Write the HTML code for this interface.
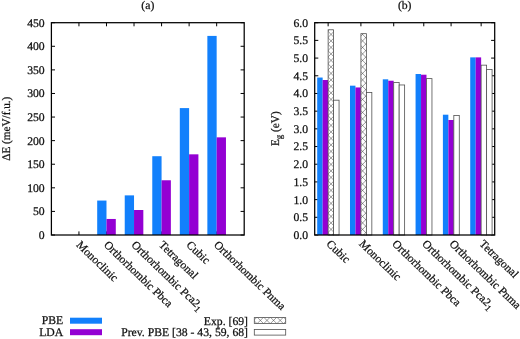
<!DOCTYPE html>
<html><head><meta charset="utf-8"><title>Figure</title>
<style>
html,body{margin:0;padding:0;background:#fff;}
body{width:520px;height:339px;overflow:hidden;}
svg{display:block;}
text{font-family:"Liberation Serif", "DejaVu Serif", serif;fill:#111;stroke:#111;stroke-width:0.25px;text-rendering:geometricPrecision;}
</style></head><body>
<svg width="520" height="339" viewBox="0 0 520 339">
<rect width="520" height="339" fill="#fff"/>
<path d="M78.94 235.0V231.4M78.94 22.7V26.3" stroke="#000" stroke-width="1" fill="none"/>
<path d="M106.49 235.0V231.4M106.49 22.7V26.3" stroke="#000" stroke-width="1" fill="none"/>
<path d="M134.03 235.0V231.4M134.03 22.7V26.3" stroke="#000" stroke-width="1" fill="none"/>
<path d="M161.57 235.0V231.4M161.57 22.7V26.3" stroke="#000" stroke-width="1" fill="none"/>
<path d="M189.11 235.0V231.4M189.11 22.7V26.3" stroke="#000" stroke-width="1" fill="none"/>
<path d="M216.66 235.0V231.4M216.66 22.7V26.3" stroke="#000" stroke-width="1" fill="none"/>
<path d="M51.4 235.00H55.0M244.2 235.00H240.6" stroke="#000" stroke-width="1" fill="none"/>
<path d="M51.4 211.41H55.0M244.2 211.41H240.6" stroke="#000" stroke-width="1" fill="none"/>
<path d="M51.4 187.82H55.0M244.2 187.82H240.6" stroke="#000" stroke-width="1" fill="none"/>
<path d="M51.4 164.23H55.0M244.2 164.23H240.6" stroke="#000" stroke-width="1" fill="none"/>
<path d="M51.4 140.64H55.0M244.2 140.64H240.6" stroke="#000" stroke-width="1" fill="none"/>
<path d="M51.4 117.06H55.0M244.2 117.06H240.6" stroke="#000" stroke-width="1" fill="none"/>
<path d="M51.4 93.47H55.0M244.2 93.47H240.6" stroke="#000" stroke-width="1" fill="none"/>
<path d="M51.4 69.88H55.0M244.2 69.88H240.6" stroke="#000" stroke-width="1" fill="none"/>
<path d="M51.4 46.29H55.0M244.2 46.29H240.6" stroke="#000" stroke-width="1" fill="none"/>
<path d="M51.4 22.70H55.0M244.2 22.70H240.6" stroke="#000" stroke-width="1" fill="none"/>
<rect x="97.19" y="200.56" width="9.30" height="34.44" fill="#1280fc"/>
<rect x="106.49" y="218.96" width="9.30" height="16.04" fill="#9400d3"/>
<rect x="124.73" y="195.37" width="9.30" height="39.63" fill="#1280fc"/>
<rect x="134.03" y="210.00" width="9.30" height="25.00" fill="#9400d3"/>
<rect x="152.27" y="156.21" width="9.30" height="78.79" fill="#1280fc"/>
<rect x="161.57" y="180.27" width="9.30" height="54.73" fill="#9400d3"/>
<rect x="179.81" y="108.09" width="9.30" height="126.91" fill="#1280fc"/>
<rect x="189.11" y="154.33" width="9.30" height="80.67" fill="#9400d3"/>
<rect x="207.36" y="35.91" width="9.30" height="199.09" fill="#1280fc"/>
<rect x="216.66" y="137.34" width="9.30" height="97.66" fill="#9400d3"/>
<text transform="translate(44.70 238.95) scale(1 1.0)" text-anchor="end" font-size="11.7">0</text>
<text transform="translate(44.70 215.36) scale(1 1.0)" text-anchor="end" font-size="11.7">50</text>
<text transform="translate(44.70 191.77) scale(1 1.0)" text-anchor="end" font-size="11.7">100</text>
<text transform="translate(44.70 168.18) scale(1 1.0)" text-anchor="end" font-size="11.7">150</text>
<text transform="translate(44.70 144.59) scale(1 1.0)" text-anchor="end" font-size="11.7">200</text>
<text transform="translate(44.70 121.01) scale(1 1.0)" text-anchor="end" font-size="11.7">250</text>
<text transform="translate(44.70 97.42) scale(1 1.0)" text-anchor="end" font-size="11.7">300</text>
<text transform="translate(44.70 73.83) scale(1 1.0)" text-anchor="end" font-size="11.7">350</text>
<text transform="translate(44.70 50.24) scale(1 1.0)" text-anchor="end" font-size="11.7">400</text>
<text transform="translate(44.70 26.65) scale(1 1.0)" text-anchor="end" font-size="11.7">450</text>
<rect x="51.4" y="22.7" width="192.80" height="212.30" fill="none" stroke="#000" stroke-width="1.25"/>
<text transform="translate(75.64 245.60) scale(1 0.958) rotate(45)" x="0" y="0" font-size="11.7">Monoclinic</text>
<text transform="translate(103.19 245.60) scale(1 0.958) rotate(45)" x="0" y="0" font-size="11.7">Orthorhombic Pbca</text>
<text transform="translate(130.73 245.60) scale(1 0.958) rotate(45)" x="0" y="0" font-size="11.7">Orthorhombic Pca2<tspan font-size="9.4" dy="3">1</tspan></text>
<text transform="translate(158.27 245.60) scale(1 0.958) rotate(45)" x="0" y="0" font-size="11.7">Tetragonal</text>
<text transform="translate(185.81 245.60) scale(1 0.958) rotate(45)" x="0" y="0" font-size="11.7">Cubic</text>
<text transform="translate(213.36 245.60) scale(1 0.958) rotate(45)" x="0" y="0" font-size="11.7">Orthorhombic Pnma</text>
<text transform="translate(147.8 8.6) scale(1 1.0)" text-anchor="middle" font-size="11.7">(a)</text>
<text transform="translate(10.0 128.7) scale(1 0.958) rotate(-90)" text-anchor="middle" font-size="11.7">ΔE (meV/f.u.)</text>
<path d="M328.13 235.0V231.4M328.13 22.7V26.3" stroke="#000" stroke-width="1" fill="none"/>
<path d="M360.92 235.0V231.4M360.92 22.7V26.3" stroke="#000" stroke-width="1" fill="none"/>
<path d="M393.71 235.0V231.4M393.71 22.7V26.3" stroke="#000" stroke-width="1" fill="none"/>
<path d="M423.77 235.0V231.4M423.77 22.7V26.3" stroke="#000" stroke-width="1" fill="none"/>
<path d="M451.09 235.0V231.4M451.09 22.7V26.3" stroke="#000" stroke-width="1" fill="none"/>
<path d="M481.15 235.0V231.4M481.15 22.7V26.3" stroke="#000" stroke-width="1" fill="none"/>
<path d="M314.7 235.00H318.3M494.7 235.00H491.09999999999997" stroke="#000" stroke-width="1" fill="none"/>
<path d="M314.7 217.31H318.3M494.7 217.31H491.09999999999997" stroke="#000" stroke-width="1" fill="none"/>
<path d="M314.7 199.62H318.3M494.7 199.62H491.09999999999997" stroke="#000" stroke-width="1" fill="none"/>
<path d="M314.7 181.92H318.3M494.7 181.92H491.09999999999997" stroke="#000" stroke-width="1" fill="none"/>
<path d="M314.7 164.23H318.3M494.7 164.23H491.09999999999997" stroke="#000" stroke-width="1" fill="none"/>
<path d="M314.7 146.54H318.3M494.7 146.54H491.09999999999997" stroke="#000" stroke-width="1" fill="none"/>
<path d="M314.7 128.85H318.3M494.7 128.85H491.09999999999997" stroke="#000" stroke-width="1" fill="none"/>
<path d="M314.7 111.16H318.3M494.7 111.16H491.09999999999997" stroke="#000" stroke-width="1" fill="none"/>
<path d="M314.7 93.47H318.3M494.7 93.47H491.09999999999997" stroke="#000" stroke-width="1" fill="none"/>
<path d="M314.7 75.78H318.3M494.7 75.78H491.09999999999997" stroke="#000" stroke-width="1" fill="none"/>
<path d="M314.7 58.08H318.3M494.7 58.08H491.09999999999997" stroke="#000" stroke-width="1" fill="none"/>
<path d="M314.7 40.39H318.3M494.7 40.39H491.09999999999997" stroke="#000" stroke-width="1" fill="none"/>
<path d="M314.7 22.70H318.3M494.7 22.70H491.09999999999997" stroke="#000" stroke-width="1" fill="none"/>
<rect x="317.20" y="77.54" width="5.46" height="157.46" fill="#1280fc"/>
<rect x="322.66" y="80.02" width="5.46" height="154.98" fill="#9400d3"/>
<rect x="328.13" y="29.78" width="5.46" height="205.22" fill="#fff"/>
<clipPath id="c1"><rect x="328.13" y="29.78" width="5.46" height="205.22"/></clipPath>
<path clip-path="url(#c1)" d="M-214.23 -274.69L384.93 343.49M-214.23 343.49L384.93 -274.69M-207.93 -274.69L391.23 343.49M-207.93 343.49L391.23 -274.69M-201.63 -274.69L397.53 343.49M-201.63 343.49L397.53 -274.69M-195.33 -274.69L403.83 343.49M-195.33 343.49L403.83 -274.69M-189.03 -274.69L410.13 343.49M-189.03 343.49L410.13 -274.69M-182.73 -274.69L416.43 343.49M-182.73 343.49L416.43 -274.69M-176.43 -274.69L422.73 343.49M-176.43 343.49L422.73 -274.69M-170.13 -274.69L429.03 343.49M-170.13 343.49L429.03 -274.69M-163.83 -274.69L435.33 343.49M-163.83 343.49L435.33 -274.69M-157.53 -274.69L441.63 343.49M-157.53 343.49L441.63 -274.69M-151.23 -274.69L447.93 343.49M-151.23 343.49L447.93 -274.69M-144.93 -274.69L454.23 343.49M-144.93 343.49L454.23 -274.69M-138.63 -274.69L460.53 343.49M-138.63 343.49L460.53 -274.69M-132.33 -274.69L466.83 343.49M-132.33 343.49L466.83 -274.69M-126.03 -274.69L473.13 343.49M-126.03 343.49L473.13 -274.69M-119.73 -274.69L479.43 343.49M-119.73 343.49L479.43 -274.69M-113.43 -274.69L485.73 343.49M-113.43 343.49L485.73 -274.69M-107.13 -274.69L492.03 343.49M-107.13 343.49L492.03 -274.69M-100.83 -274.69L498.33 343.49M-100.83 343.49L498.33 -274.69M-94.53 -274.69L504.63 343.49M-94.53 343.49L504.63 -274.69M-88.23 -274.69L510.93 343.49M-88.23 343.49L510.93 -274.69M-81.93 -274.69L517.23 343.49M-81.93 343.49L517.23 -274.69M-75.63 -274.69L523.53 343.49M-75.63 343.49L523.53 -274.69M-69.33 -274.69L529.83 343.49M-69.33 343.49L529.83 -274.69M-63.03 -274.69L536.13 343.49M-63.03 343.49L536.13 -274.69M-56.73 -274.69L542.43 343.49M-56.73 343.49L542.43 -274.69M-50.43 -274.69L548.73 343.49M-50.43 343.49L548.73 -274.69M-44.13 -274.69L555.03 343.49M-44.13 343.49L555.03 -274.69M-37.83 -274.69L561.33 343.49M-37.83 343.49L561.33 -274.69M-31.53 -274.69L567.63 343.49M-31.53 343.49L567.63 -274.69M-25.23 -274.69L573.93 343.49M-25.23 343.49L573.93 -274.69M-18.93 -274.69L580.23 343.49M-18.93 343.49L580.23 -274.69M-12.63 -274.69L586.53 343.49M-12.63 343.49L586.53 -274.69M-6.33 -274.69L592.83 343.49M-6.33 343.49L592.83 -274.69M-0.03 -274.69L599.13 343.49M-0.03 343.49L599.13 -274.69M6.27 -274.69L605.43 343.49M6.27 343.49L605.43 -274.69M12.57 -274.69L611.73 343.49M12.57 343.49L611.73 -274.69M18.87 -274.69L618.03 343.49M18.87 343.49L618.03 -274.69M25.17 -274.69L624.33 343.49M25.17 343.49L624.33 -274.69M31.47 -274.69L630.63 343.49M31.47 343.49L630.63 -274.69M37.77 -274.69L636.93 343.49M37.77 343.49L636.93 -274.69M44.07 -274.69L643.23 343.49M44.07 343.49L643.23 -274.69M50.37 -274.69L649.53 343.49M50.37 343.49L649.53 -274.69M56.67 -274.69L655.83 343.49M56.67 343.49L655.83 -274.69M62.97 -274.69L662.13 343.49M62.97 343.49L662.13 -274.69M69.27 -274.69L668.43 343.49M69.27 343.49L668.43 -274.69M75.57 -274.69L674.73 343.49M75.57 343.49L674.73 -274.69M81.87 -274.69L681.03 343.49M81.87 343.49L681.03 -274.69M88.17 -274.69L687.33 343.49M88.17 343.49L687.33 -274.69M94.47 -274.69L693.63 343.49M94.47 343.49L693.63 -274.69M100.77 -274.69L699.93 343.49M100.77 343.49L699.93 -274.69M107.07 -274.69L706.23 343.49M107.07 343.49L706.23 -274.69M113.37 -274.69L712.53 343.49M113.37 343.49L712.53 -274.69M119.67 -274.69L718.83 343.49M119.67 343.49L718.83 -274.69M125.97 -274.69L725.13 343.49M125.97 343.49L725.13 -274.69M132.27 -274.69L731.43 343.49M132.27 343.49L731.43 -274.69M138.57 -274.69L737.73 343.49M138.57 343.49L737.73 -274.69M144.87 -274.69L744.03 343.49M144.87 343.49L744.03 -274.69M151.17 -274.69L750.33 343.49M151.17 343.49L750.33 -274.69M157.47 -274.69L756.63 343.49M157.47 343.49L756.63 -274.69M163.77 -274.69L762.93 343.49M163.77 343.49L762.93 -274.69M170.07 -274.69L769.23 343.49M170.07 343.49L769.23 -274.69M176.37 -274.69L775.53 343.49M176.37 343.49L775.53 -274.69M182.67 -274.69L781.83 343.49M182.67 343.49L781.83 -274.69M188.97 -274.69L788.13 343.49M188.97 343.49L788.13 -274.69M195.27 -274.69L794.43 343.49M195.27 343.49L794.43 -274.69M201.57 -274.69L800.73 343.49M201.57 343.49L800.73 -274.69M207.87 -274.69L807.03 343.49M207.87 343.49L807.03 -274.69M214.17 -274.69L813.33 343.49M214.17 343.49L813.33 -274.69M220.47 -274.69L819.63 343.49M220.47 343.49L819.63 -274.69M226.77 -274.69L825.93 343.49M226.77 343.49L825.93 -274.69M233.07 -274.69L832.23 343.49M233.07 343.49L832.23 -274.69M239.37 -274.69L838.53 343.49M239.37 343.49L838.53 -274.69M245.67 -274.69L844.83 343.49M245.67 343.49L844.83 -274.69M251.97 -274.69L851.13 343.49M251.97 343.49L851.13 -274.69M258.27 -274.69L857.43 343.49M258.27 343.49L857.43 -274.69M264.57 -274.69L863.73 343.49M264.57 343.49L863.73 -274.69M270.87 -274.69L870.03 343.49M270.87 343.49L870.03 -274.69M277.17 -274.69L876.33 343.49M277.17 343.49L876.33 -274.69" stroke="#3a3a3a" stroke-width="0.5" fill="none"/>
<rect x="328.13" y="29.78" width="5.46" height="205.22" fill="none" stroke="#505050" stroke-width="0.8"/>
<rect x="333.59" y="100.19" width="5.46" height="134.81" fill="#fff" stroke="#505050" stroke-width="0.8"/>
<rect x="349.99" y="85.68" width="5.46" height="149.32" fill="#1280fc"/>
<rect x="355.45" y="87.45" width="5.46" height="147.55" fill="#9400d3"/>
<rect x="360.92" y="33.67" width="5.46" height="201.33" fill="#fff"/>
<clipPath id="c2"><rect x="360.92" y="33.67" width="5.46" height="201.33"/></clipPath>
<path clip-path="url(#c2)" d="M-202.51 -269.10L385.81 337.90M-202.51 337.90L385.81 -269.10M-196.21 -269.10L392.11 337.90M-196.21 337.90L392.11 -269.10M-189.91 -269.10L398.41 337.90M-189.91 337.90L398.41 -269.10M-183.61 -269.10L404.71 337.90M-183.61 337.90L404.71 -269.10M-177.31 -269.10L411.01 337.90M-177.31 337.90L411.01 -269.10M-171.01 -269.10L417.31 337.90M-171.01 337.90L417.31 -269.10M-164.71 -269.10L423.61 337.90M-164.71 337.90L423.61 -269.10M-158.41 -269.10L429.91 337.90M-158.41 337.90L429.91 -269.10M-152.11 -269.10L436.21 337.90M-152.11 337.90L436.21 -269.10M-145.81 -269.10L442.51 337.90M-145.81 337.90L442.51 -269.10M-139.51 -269.10L448.81 337.90M-139.51 337.90L448.81 -269.10M-133.21 -269.10L455.11 337.90M-133.21 337.90L455.11 -269.10M-126.91 -269.10L461.41 337.90M-126.91 337.90L461.41 -269.10M-120.61 -269.10L467.71 337.90M-120.61 337.90L467.71 -269.10M-114.31 -269.10L474.01 337.90M-114.31 337.90L474.01 -269.10M-108.01 -269.10L480.31 337.90M-108.01 337.90L480.31 -269.10M-101.71 -269.10L486.61 337.90M-101.71 337.90L486.61 -269.10M-95.41 -269.10L492.91 337.90M-95.41 337.90L492.91 -269.10M-89.11 -269.10L499.21 337.90M-89.11 337.90L499.21 -269.10M-82.81 -269.10L505.51 337.90M-82.81 337.90L505.51 -269.10M-76.51 -269.10L511.81 337.90M-76.51 337.90L511.81 -269.10M-70.21 -269.10L518.11 337.90M-70.21 337.90L518.11 -269.10M-63.91 -269.10L524.41 337.90M-63.91 337.90L524.41 -269.10M-57.61 -269.10L530.71 337.90M-57.61 337.90L530.71 -269.10M-51.31 -269.10L537.01 337.90M-51.31 337.90L537.01 -269.10M-45.01 -269.10L543.31 337.90M-45.01 337.90L543.31 -269.10M-38.71 -269.10L549.61 337.90M-38.71 337.90L549.61 -269.10M-32.41 -269.10L555.91 337.90M-32.41 337.90L555.91 -269.10M-26.11 -269.10L562.21 337.90M-26.11 337.90L562.21 -269.10M-19.81 -269.10L568.51 337.90M-19.81 337.90L568.51 -269.10M-13.51 -269.10L574.81 337.90M-13.51 337.90L574.81 -269.10M-7.21 -269.10L581.11 337.90M-7.21 337.90L581.11 -269.10M-0.91 -269.10L587.41 337.90M-0.91 337.90L587.41 -269.10M5.39 -269.10L593.71 337.90M5.39 337.90L593.71 -269.10M11.69 -269.10L600.01 337.90M11.69 337.90L600.01 -269.10M17.99 -269.10L606.31 337.90M17.99 337.90L606.31 -269.10M24.29 -269.10L612.61 337.90M24.29 337.90L612.61 -269.10M30.59 -269.10L618.91 337.90M30.59 337.90L618.91 -269.10M36.89 -269.10L625.21 337.90M36.89 337.90L625.21 -269.10M43.19 -269.10L631.51 337.90M43.19 337.90L631.51 -269.10M49.49 -269.10L637.81 337.90M49.49 337.90L637.81 -269.10M55.79 -269.10L644.11 337.90M55.79 337.90L644.11 -269.10M62.09 -269.10L650.41 337.90M62.09 337.90L650.41 -269.10M68.39 -269.10L656.71 337.90M68.39 337.90L656.71 -269.10M74.69 -269.10L663.01 337.90M74.69 337.90L663.01 -269.10M80.99 -269.10L669.31 337.90M80.99 337.90L669.31 -269.10M87.29 -269.10L675.61 337.90M87.29 337.90L675.61 -269.10M93.59 -269.10L681.91 337.90M93.59 337.90L681.91 -269.10M99.89 -269.10L688.21 337.90M99.89 337.90L688.21 -269.10M106.19 -269.10L694.51 337.90M106.19 337.90L694.51 -269.10M112.49 -269.10L700.81 337.90M112.49 337.90L700.81 -269.10M118.79 -269.10L707.11 337.90M118.79 337.90L707.11 -269.10M125.09 -269.10L713.41 337.90M125.09 337.90L713.41 -269.10M131.39 -269.10L719.71 337.90M131.39 337.90L719.71 -269.10M137.69 -269.10L726.01 337.90M137.69 337.90L726.01 -269.10M143.99 -269.10L732.31 337.90M143.99 337.90L732.31 -269.10M150.29 -269.10L738.61 337.90M150.29 337.90L738.61 -269.10M156.59 -269.10L744.91 337.90M156.59 337.90L744.91 -269.10M162.89 -269.10L751.21 337.90M162.89 337.90L751.21 -269.10M169.19 -269.10L757.51 337.90M169.19 337.90L757.51 -269.10M175.49 -269.10L763.81 337.90M175.49 337.90L763.81 -269.10M181.79 -269.10L770.11 337.90M181.79 337.90L770.11 -269.10M188.09 -269.10L776.41 337.90M188.09 337.90L776.41 -269.10M194.39 -269.10L782.71 337.90M194.39 337.90L782.71 -269.10M200.69 -269.10L789.01 337.90M200.69 337.90L789.01 -269.10M206.99 -269.10L795.31 337.90M206.99 337.90L795.31 -269.10M213.29 -269.10L801.61 337.90M213.29 337.90L801.61 -269.10M219.59 -269.10L807.91 337.90M219.59 337.90L807.91 -269.10M225.89 -269.10L814.21 337.90M225.89 337.90L814.21 -269.10M232.19 -269.10L820.51 337.90M232.19 337.90L820.51 -269.10M238.49 -269.10L826.81 337.90M238.49 337.90L826.81 -269.10M244.79 -269.10L833.11 337.90M244.79 337.90L833.11 -269.10M251.09 -269.10L839.41 337.90M251.09 337.90L839.41 -269.10M257.39 -269.10L845.71 337.90M257.39 337.90L845.71 -269.10M263.69 -269.10L852.01 337.90M263.69 337.90L852.01 -269.10M269.99 -269.10L858.31 337.90M269.99 337.90L858.31 -269.10M276.29 -269.10L864.61 337.90M276.29 337.90L864.61 -269.10" stroke="#3a3a3a" stroke-width="0.5" fill="none"/>
<rect x="360.92" y="33.67" width="5.46" height="201.33" fill="none" stroke="#505050" stroke-width="0.8"/>
<rect x="366.38" y="92.41" width="5.46" height="142.59" fill="#fff" stroke="#505050" stroke-width="0.8"/>
<rect x="382.78" y="79.31" width="5.46" height="155.69" fill="#1280fc"/>
<rect x="388.24" y="80.73" width="5.46" height="154.27" fill="#9400d3"/>
<rect x="393.71" y="82.50" width="5.46" height="152.50" fill="#fff" stroke="#505050" stroke-width="0.8"/>
<rect x="399.17" y="84.97" width="5.46" height="150.03" fill="#fff" stroke="#505050" stroke-width="0.8"/>
<rect x="415.57" y="74.01" width="5.46" height="160.99" fill="#1280fc"/>
<rect x="421.03" y="74.71" width="5.46" height="160.29" fill="#9400d3"/>
<rect x="426.50" y="78.61" width="5.46" height="156.39" fill="#fff" stroke="#505050" stroke-width="0.8"/>
<rect x="442.89" y="114.70" width="5.46" height="120.30" fill="#1280fc"/>
<rect x="448.36" y="120.00" width="5.46" height="115.00" fill="#9400d3"/>
<rect x="453.82" y="115.40" width="5.46" height="119.60" fill="#fff" stroke="#505050" stroke-width="0.8"/>
<rect x="470.22" y="57.38" width="5.46" height="177.62" fill="#1280fc"/>
<rect x="475.68" y="57.38" width="5.46" height="177.62" fill="#9400d3"/>
<rect x="481.15" y="65.16" width="5.46" height="169.84" fill="#fff" stroke="#505050" stroke-width="0.8"/>
<rect x="486.61" y="69.41" width="5.46" height="165.59" fill="#fff" stroke="#505050" stroke-width="0.8"/>
<text transform="translate(308.00 238.95) scale(1 1.0)" text-anchor="end" font-size="11.7">0.0</text>
<text transform="translate(308.00 221.26) scale(1 1.0)" text-anchor="end" font-size="11.7">0.5</text>
<text transform="translate(308.00 203.57) scale(1 1.0)" text-anchor="end" font-size="11.7">1.0</text>
<text transform="translate(308.00 185.87) scale(1 1.0)" text-anchor="end" font-size="11.7">1.5</text>
<text transform="translate(308.00 168.18) scale(1 1.0)" text-anchor="end" font-size="11.7">2.0</text>
<text transform="translate(308.00 150.49) scale(1 1.0)" text-anchor="end" font-size="11.7">2.5</text>
<text transform="translate(308.00 132.80) scale(1 1.0)" text-anchor="end" font-size="11.7">3.0</text>
<text transform="translate(308.00 115.11) scale(1 1.0)" text-anchor="end" font-size="11.7">3.5</text>
<text transform="translate(308.00 97.42) scale(1 1.0)" text-anchor="end" font-size="11.7">4.0</text>
<text transform="translate(308.00 79.73) scale(1 1.0)" text-anchor="end" font-size="11.7">4.5</text>
<text transform="translate(308.00 62.03) scale(1 1.0)" text-anchor="end" font-size="11.7">5.0</text>
<text transform="translate(308.00 44.34) scale(1 1.0)" text-anchor="end" font-size="11.7">5.5</text>
<text transform="translate(308.00 26.65) scale(1 1.0)" text-anchor="end" font-size="11.7">6.0</text>
<rect x="314.7" y="22.7" width="180.00" height="212.30" fill="none" stroke="#000" stroke-width="1.25"/>
<text transform="translate(325.83 244.60) scale(1 0.958) rotate(45)" x="0" y="0" font-size="11.7">Cubic</text>
<text transform="translate(358.62 244.60) scale(1 0.958) rotate(45)" x="0" y="0" font-size="11.7">Monoclinic</text>
<text transform="translate(391.41 244.60) scale(1 0.958) rotate(45)" x="0" y="0" font-size="11.7">Orthorhombic Pbca</text>
<text transform="translate(421.47 244.60) scale(1 0.958) rotate(45)" x="0" y="0" font-size="11.7">Orthorhombic Pca2<tspan font-size="9.4" dy="3">1</tspan></text>
<text transform="translate(448.79 244.60) scale(1 0.958) rotate(45)" x="0" y="0" font-size="11.7">Orthorhombic Pnma</text>
<text transform="translate(478.85 244.60) scale(1 0.958) rotate(45)" x="0" y="0" font-size="11.7">Tetragonal</text>
<text transform="translate(404.7 8.6) scale(1 1.0)" text-anchor="middle" font-size="11.7">(b)</text>
<text transform="translate(278.8 128.7) scale(1 0.958) rotate(-90)" text-anchor="middle" font-size="11.7">E<tspan font-size="9.4" dy="3">g</tspan><tspan dy="-3"> (eV)</tspan></text>
<text transform="translate(63.2 324.2) scale(1 1.0)" text-anchor="end" font-size="11.7">PBE</text>
<rect x="70" y="317.7" width="32" height="6" fill="#1280fc"/>
<text transform="translate(63.2 335.6) scale(1 1.0)" text-anchor="end" font-size="11.7">LDA</text>
<rect x="70" y="329.2" width="32" height="6" fill="#9400d3"/>
<text transform="translate(248.0 324.6) scale(1 1.0)" text-anchor="end" font-size="11.7">Exp. [69]</text>
<text transform="translate(248.0 335.6) scale(1 1.0)" text-anchor="end" font-size="11.7">Prev. PBE [38 - 43, 59, 68]</text>
<rect x="254.3" y="317.6" width="31.4" height="5.8" fill="#fff"/>
<clipPath id="c3"><rect x="254.30" y="317.60" width="31.40" height="5.80"/></clipPath>
<path clip-path="url(#c3)" d="M128.77 262.30L246.75 378.50M128.77 378.50L246.75 262.30M135.37 262.30L253.35 378.50M135.37 378.50L253.35 262.30M141.97 262.30L259.95 378.50M141.97 378.50L259.95 262.30M148.57 262.30L266.55 378.50M148.57 378.50L266.55 262.30M155.17 262.30L273.15 378.50M155.17 378.50L273.15 262.30M161.77 262.30L279.75 378.50M161.77 378.50L279.75 262.30M168.37 262.30L286.35 378.50M168.37 378.50L286.35 262.30M174.97 262.30L292.95 378.50M174.97 378.50L292.95 262.30M181.57 262.30L299.55 378.50M181.57 378.50L299.55 262.30M188.17 262.30L306.15 378.50M188.17 378.50L306.15 262.30M194.77 262.30L312.75 378.50M194.77 378.50L312.75 262.30M201.37 262.30L319.35 378.50M201.37 378.50L319.35 262.30M207.97 262.30L325.95 378.50M207.97 378.50L325.95 262.30M214.57 262.30L332.55 378.50M214.57 378.50L332.55 262.30M221.17 262.30L339.15 378.50M221.17 378.50L339.15 262.30M227.77 262.30L345.75 378.50M227.77 378.50L345.75 262.30M234.37 262.30L352.35 378.50M234.37 378.50L352.35 262.30M240.97 262.30L358.95 378.50M240.97 378.50L358.95 262.30M247.57 262.30L365.55 378.50M247.57 378.50L365.55 262.30M254.17 262.30L372.15 378.50M254.17 378.50L372.15 262.30M260.77 262.30L378.75 378.50M260.77 378.50L378.75 262.30M267.37 262.30L385.35 378.50M267.37 378.50L385.35 262.30M273.97 262.30L391.95 378.50M273.97 378.50L391.95 262.30" stroke="#3a3a3a" stroke-width="0.5" fill="none"/>
<rect x="254.3" y="317.6" width="31.4" height="5.8" fill="none" stroke="#505050" stroke-width="0.8"/>
<rect x="254.3" y="329.5" width="31.4" height="5.6" fill="#fff" stroke="#505050" stroke-width="0.8"/>
</svg>
</body></html>
